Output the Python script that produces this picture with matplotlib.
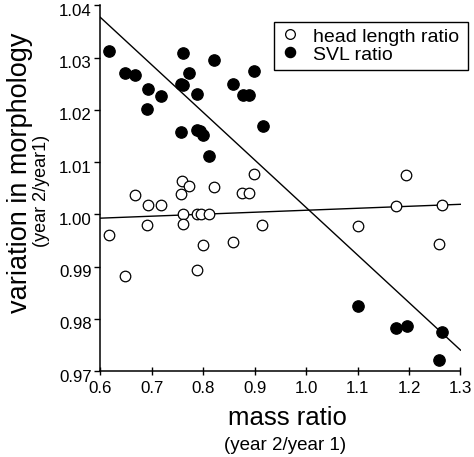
import matplotlib
matplotlib.use("Agg")
import matplotlib.pyplot as plt
import matplotlib.transforms as mtransforms
from matplotlib.lines import Line2D
from matplotlib.patches import Rectangle
import numpy as np

plt.rcParams['font.family'] = ['Liberation Sans', 'DejaVu Sans']

# ---- data ----
head_x = [0.617, 0.648, 0.667, 0.690, 0.693, 0.717, 0.756, 0.758, 0.761, 0.761,
          0.772, 0.787, 0.788, 0.795, 0.800, 0.811, 0.821, 0.858, 0.875, 0.889,
          0.898, 0.915, 1.100, 1.175, 1.195, 1.258, 1.265]
head_y = [0.9961, 0.9881, 1.0037, 0.9979, 1.0018, 1.0018, 1.0039, 1.0064, 1.0000, 0.9981,
          1.0054, 1.0000, 0.9893, 1.0000, 0.9941, 1.0000, 1.0052, 0.9946, 1.0040, 1.0040,
          1.0078, 0.9979, 0.9978, 1.0016, 1.0075, 0.9943, 1.0017]

svl_x = [0.617, 0.648, 0.667, 0.690, 0.693, 0.717, 0.756, 0.756, 0.761, 0.761,
         0.772, 0.787, 0.788, 0.794, 0.800, 0.811, 0.821, 0.858, 0.877, 0.889,
         0.898, 0.917, 1.100, 1.175, 1.196, 1.258, 1.265]
svl_y = [1.0312, 1.0270, 1.0267, 1.0201, 1.0239, 1.0226, 1.0157, 1.0250, 1.0309, 1.0247,
         1.0270, 1.0161, 1.0230, 1.0159, 1.0151, 1.0112, 1.0296, 1.0249, 1.0228, 1.0229,
         1.0275, 1.0169, 0.9825, 0.9783, 0.9786, 0.9721, 0.9775]

# regression lines (intercept, slope)
head_fit = [0.99698, 0.00379]
svl_fit = [1.0923, -0.0910]

series_labels = ["head length ratio", "SVL ratio"]

x_ticks = [0.6, 0.7, 0.8, 0.9, 1.0, 1.1, 1.2, 1.3]
x_ticklabels = ["0.6", "0.7", "0.8", "0.9", "1.0", "1.1", "1.2", "1.3"]
y_ticks = [0.97, 0.98, 0.99, 1.00, 1.01, 1.02, 1.03, 1.04]
y_ticklabels = ["0.97", "0.98", "0.99", "1.00", "1.01", "1.02", "1.03", "1.04"]

# ---- figure ----
W, H = 474, 457
fig = plt.figure(figsize=(W / 100, H / 100), dpi=100)

def fx(px):
    return px / W

def fy(py):
    return 1 - py / H

left, right, top, bottom = 100.3, 460.5, 5.3, 371.0
ax = fig.add_axes([fx(left), fy(bottom), fx(right) - fx(left), (bottom - top) / H])

ax.set_xlim(0.6, 1.3)
ax.set_ylim(0.97, 1.04)

line_x = np.array([0.6, 1.3])
ax.plot(line_x, svl_fit[0] + svl_fit[1] * line_x, color='black', lw=1.0, zorder=2)
ax.plot(line_x, head_fit[0] + head_fit[1] * line_x, color='black', lw=1.0, zorder=2)

open_style = dict(linestyle='none', marker='o', mfc='white', mec='black', mew=0.9)
fill_style = dict(linestyle='none', marker='o', mfc='black', mec='black', mew=0.9)

ax.plot(head_x, head_y, ms=7.6, zorder=3, clip_on=False, **open_style)
ax.plot(svl_x, svl_y, ms=8.2, zorder=4, clip_on=False, **fill_style)

for s in ['top', 'right']:
    ax.spines[s].set_visible(False)
for s in ['left', 'bottom']:
    ax.spines[s].set_linewidth(1.1)

ax.set_xticks(x_ticks)
ax.set_xticklabels(x_ticklabels)
ax.set_yticks(y_ticks)
ax.set_yticklabels(y_ticklabels)
ax.tick_params(axis='x', direction='inout', length=6, width=1.0, pad=4, labelsize=12.2)
ax.tick_params(axis='y', direction='out', length=4, width=1.0, pad=2, labelsize=12.2)

off = mtransforms.ScaledTranslation(0, -4.5 / 100, fig.dpi_scale_trans)
for lab in ax.get_yticklabels():
    lab.set_transform(lab.get_transform() + off)

# axis titles
fig.text(fx(287.5), fy(425), "mass ratio", ha='center', va='baseline', fontsize=18.5)
fig.text(fx(284.7), fy(445), "(year 2/year 1)", ha='center', va='center', fontsize=13.5)
fig.text(fx(20), fy(173), "variation in morphology", ha='center', va='center',
         rotation=90, fontsize=19.5)
fig.text(fx(42), fy(191), "(year 2/year1)", ha='center', va='center',
         rotation=90, fontsize=13)

# legend (drawn as a framed key)
fig.add_artist(Rectangle((fx(274), fy(70)), fx(468) - fx(274), (70 - 21.7) / H,
                         transform=fig.transFigure, facecolor='white',
                         edgecolor='black', lw=1.0, zorder=5))
key_rows = [(33.5, 41.7, open_style, 7.0), (52.0, 60.0, fill_style, 7.4)]
for (my, by, style, ms), lab in zip(key_rows, series_labels):
    fig.add_artist(Line2D([fx(290)], [fy(my)], transform=fig.transFigure,
                          ms=ms, zorder=6, **style))
    fig.text(fx(313), fy(by), lab, ha='left', va='baseline', fontsize=14, zorder=6)

fig.savefig("out.png", dpi=100)
